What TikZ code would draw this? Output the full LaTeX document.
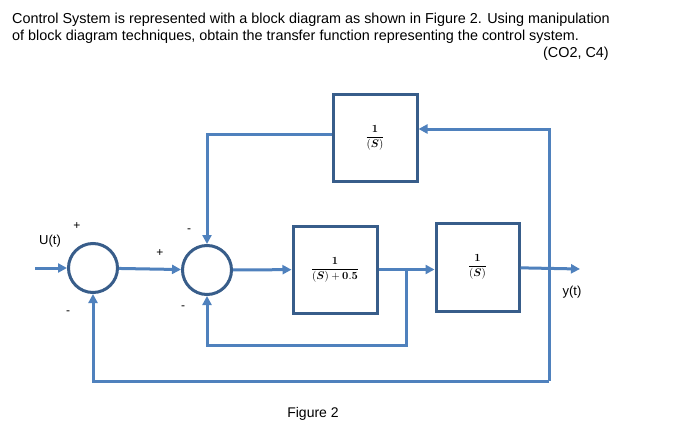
\documentclass[tikz,border=0pt]{standalone}
\usepackage[no-math]{fontspec}
\setmainfont{Liberation Sans}
\usepackage{amsmath,bm}
\usetikzlibrary{arrows.meta,calc}
\definecolor{lblue}{RGB}{79,129,189}
\definecolor{bdark}{RGB}{56,93,138}
\begin{document}
\begin{tikzpicture}[x=1pt,y=-1pt,
 wire/.style={draw=lblue, line width=3pt},
 wirearr/.style={wire, -{Triangle[length=9pt,width=9pt]}},
 blockbox/.style={draw=bdark, line width=3pt, inner sep=0pt},
 sumjunc/.style={circle, draw=bdark, line width=3pt, minimum size=49pt, inner sep=0pt},
 bodytext/.style={font=\fontsize{14.4}{17}\selectfont, inner sep=0pt},
 signtext/.style={font=\fontsize{12}{13}\selectfont, inner sep=0pt},
 tffont/.style={font=\fontsize{11}{12}\selectfont}]
\useasboundingbox (0,0) rectangle (700,444);
\fill[white] (0,0) rectangle (700,444);
% title
\node[bodytext, anchor=base west] (t1) at (12,24) {Control System is represented with a block diagram as shown in Figure 2. Using manipulation};
\node[bodytext, anchor=base west] (t2) at (12,41) {of block diagram techniques, obtain the transfer function representing the control system.};
\node[bodytext, anchor=base east] (t3) at (609,57) {(CO2, C4)};
% elements
\node[sumjunc] (s1) at (93,268) {};
\node[sumjunc] (s2) at (207,270) {};
\node[blockbox, minimum width=84pt, minimum height=87pt, tffont] (g1) at (335,269.5) {$\dfrac{\mathbf{1}}{(\bm{S})+\mathbf{0.5}}$};
\node[blockbox, minimum width=83pt, minimum height=88pt, tffont] (g2) at (477.5,267) {$\dfrac{\mathbf{1}}{(\bm{S})}$};
\node[blockbox, minimum width=84pt, minimum height=87pt, tffont] (g3) at (375,137.5) {$\dfrac{\mathbf{1}}{(\bm{S})}$};
\coordinate (in) at (35,268);
\coordinate (out) at (580,269);
\coordinate (tap) at (406,269);
\coordinate (rt) at (549,269);
\coordinate (rtop) at (549,129);
\coordinate (rbot) at (549,381);
\coordinate (tbot) at (406,345);
% connectors
\draw[wirearr] (in) -- (s1);
\draw[wirearr] (s1) -- (s2);
\draw[wirearr] (s2) -- (g1);
\draw[wirearr] (g1.east) -- (g1.east -| g2.west);
\draw[wirearr] (g2) -- (out);
\draw[wirearr] (rbot) -- (rtop) -- (rtop -| g3.east);
\draw[wirearr] ($(g3.west)+(0,-3.5)$) -| (s2.north);
\draw[wirearr] (rbot) -| (s1.south);
\draw[wirearr] (tap) -- (tbot) -| (s2.south);
% labels
\node[signtext, font=\fontsize{13}{14}\selectfont] (lu) at (50,241) {U(t)};
\node[signtext] (p1) at (77,226) {+};
\node[signtext] (m1) at (68,313) {-};
\node[signtext] (p2) at (160,253) {+};
\node[signtext] (m2) at (189,231) {-};
\node[signtext] (m3) at (183,308) {-};
\node[signtext, font=\fontsize{13}{14}\selectfont] (ly) at (572,292) {y(t)};
\node[bodytext, font=\fontsize{14}{16}\selectfont] (fig) at (313,414) {Figure 2};
\end{tikzpicture}
\end{document}
